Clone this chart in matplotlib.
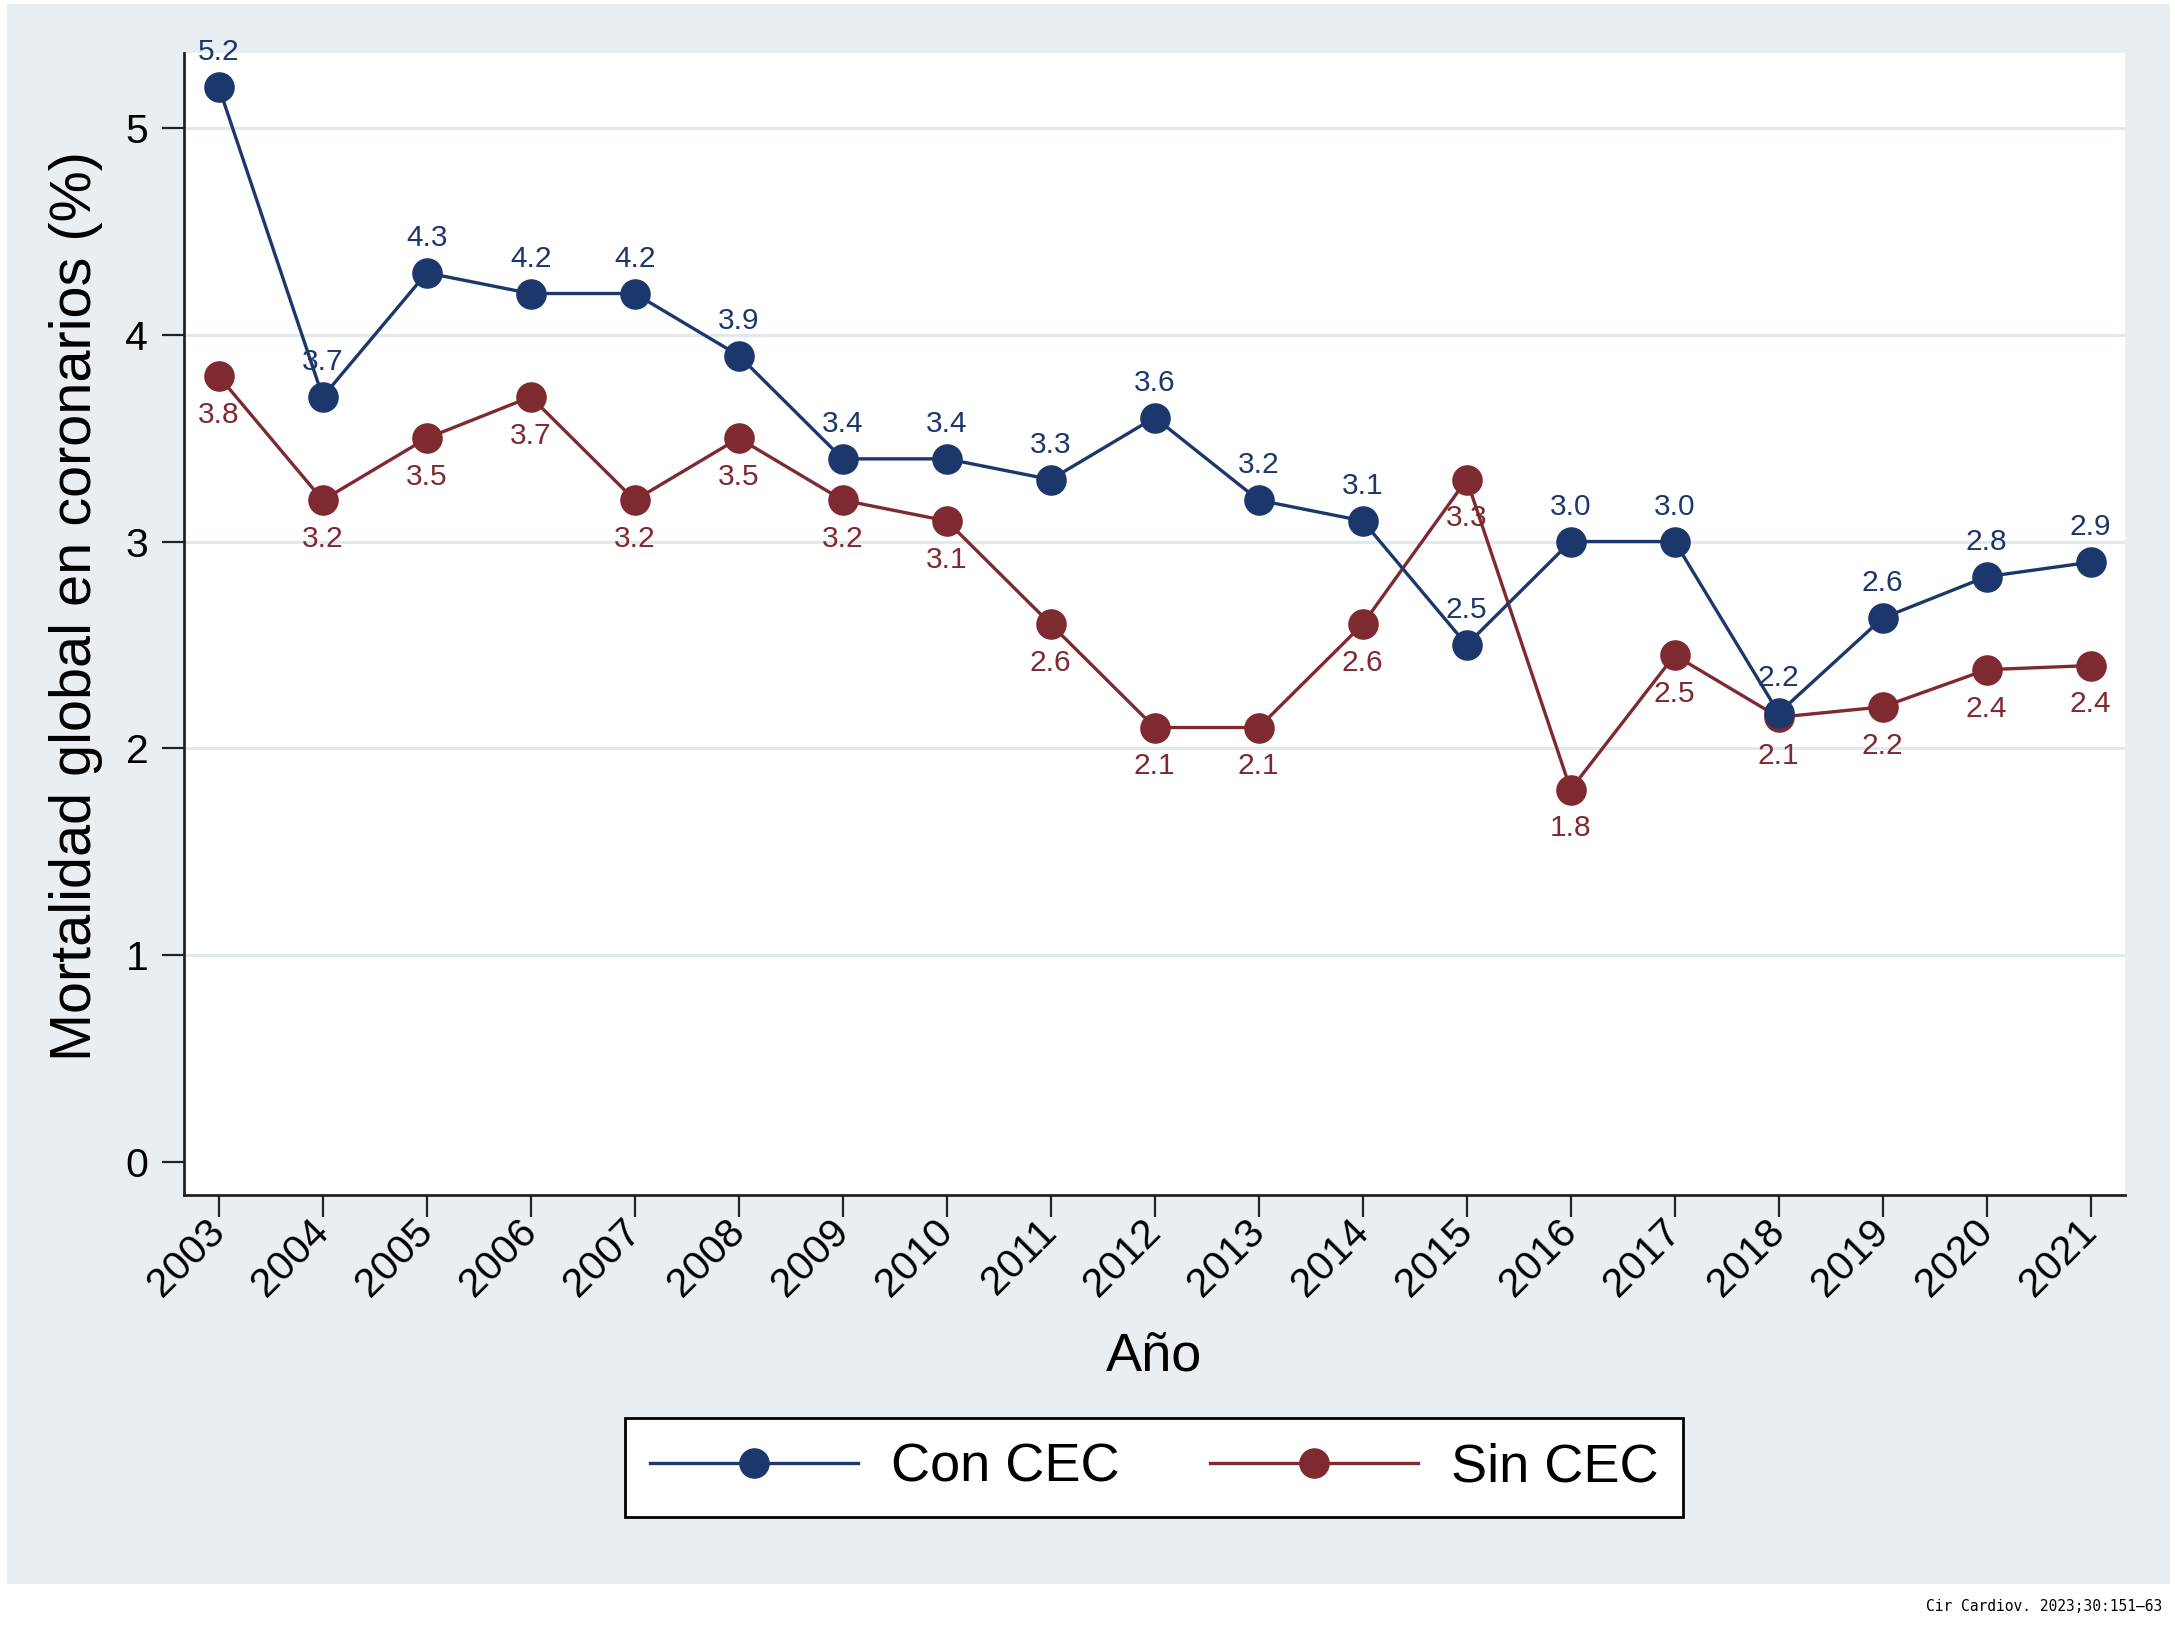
import matplotlib
matplotlib.use("Agg")
import matplotlib.pyplot as plt
from matplotlib.patches import Rectangle

# values
years = [2003, 2004, 2005, 2006, 2007, 2008, 2009, 2010, 2011, 2012,
         2013, 2014, 2015, 2016, 2017, 2018, 2019, 2020, 2021]
con_cec = [5.2, 3.7, 4.3, 4.2, 4.2, 3.9, 3.4, 3.4, 3.3, 3.6,
           3.2, 3.1, 2.5, 3.0, 3.0, 2.17, 2.63, 2.83, 2.9]
sin_cec = [3.8, 3.2, 3.5, 3.7, 3.2, 3.5, 3.2, 3.1, 2.6, 2.1,
           2.1, 2.6, 3.3, 1.8, 2.45, 2.15, 2.2, 2.38, 2.4]
con_labels = ["5.2", "3.7", "4.3", "4.2", "4.2", "3.9", "3.4", "3.4", "3.3", "3.6",
              "3.2", "3.1", "2.5", "3.0", "3.0", "2.2", "2.6", "2.8", "2.9"]
sin_labels = ["3.8", "3.2", "3.5", "3.7", "3.2", "3.5", "3.2", "3.1", "2.6", "2.1",
              "2.1", "2.6", "3.3", "1.8", "2.5", "2.1", "2.2", "2.4", "2.4"]
y_ticks = [0, 1, 2, 3, 4, 5]

BLUE = "#1c376b"
RED = "#7e2a30"
BG = "#e8eef1"
GRID = "#e1e9ec"

plt.rcParams['font.family'] = ['Liberation Sans', 'DejaVu Sans']

fig = plt.figure(figsize=(21.75, 16.29), dpi=100)
fig.patch.set_facecolor("white")
fig.patches.append(Rectangle((0.0032, 0.0276), 0.9945, 0.970, transform=fig.transFigure,
                             facecolor=BG, edgecolor="none", zorder=-10))

ax = fig.add_axes([0.0848, 0.2664, 0.8922, 0.7011])
ax.set_facecolor("white")

line_con, = ax.plot(years, con_cec, color=BLUE, lw=2.4, marker="o", markersize=21,
                    label="Con CEC", zorder=4, clip_on=False)
line_sin, = ax.plot(years, sin_cec, color=RED, lw=2.4, marker="o", markersize=21,
                    label="Sin CEC", zorder=3, clip_on=False)

for x, y, s in zip(years, con_cec, con_labels):
    ax.annotate(s, (x, y), xytext=(0, 25), textcoords="offset points", ha="center",
                va="center", fontsize=21.5, color=BLUE, annotation_clip=False, zorder=5)
for x, y, s in zip(years, sin_cec, sin_labels):
    ax.annotate(s, (x, y), xytext=(0, -28), textcoords="offset points", ha="center",
                va="center", fontsize=21.5, color=RED, annotation_clip=False, zorder=5)

ax.set_xlim(2002.67, 2021.33)
ax.set_ylim(-0.162, 5.364)
ax.set_yticks(y_ticks)
ax.set_yticklabels([str(t) for t in y_ticks])
ax.set_xticks(years)
ax.set_xticklabels([str(y) for y in years], rotation=45, ha="right",
                   rotation_mode="anchor", va="center")

for t in y_ticks[1:]:
    ax.axhline(t, color=GRID, lw=2.2, zorder=1)

for side in ["top", "right"]:
    ax.spines[side].set_visible(False)
for side in ["left", "bottom"]:
    ax.spines[side].set_linewidth(2.0)
    ax.spines[side].set_color("#222222")

ax.tick_params(axis="both", labelsize=29.5, length=16, width=1.6, color="#222222")
ax.tick_params(axis="y", pad=10)
ax.tick_params(axis="x", pad=6)

fig.text(0.035, 0.628, "Mortalidad global en coronarios (%)", rotation=90,
         ha="center", va="center", fontsize=41.5)
fig.text(0.5306, 0.167, "Año", ha="center", va="center", fontsize=39)

leg = fig.legend(handles=[line_con, line_sin], loc="center", bbox_to_anchor=(0.5306, 0.099),
                 ncol=2, fontsize=39, frameon=True, fancybox=False, edgecolor="black",
                 framealpha=1, handlelength=3.85, handletextpad=0.6, columnspacing=1.67,
                 borderpad=0.45)
leg.get_frame().set_linewidth(2.0)
leg.get_frame().set_facecolor("white")

fig.text(0.994, 0.014, "Cir Cardiov. 2023;30:151\u201363", ha="right", va="center",
         fontsize=10.5, family="DejaVu Sans Mono")

fig.savefig("out.png", dpi=100)
